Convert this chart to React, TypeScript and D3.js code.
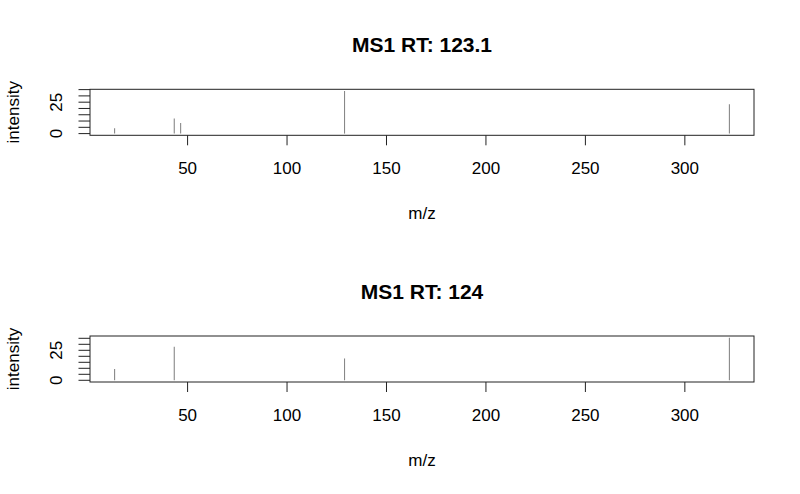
import React from "react";
import * as d3 from "d3";

// Two MS1 spectra, one per retention time
const titles = ["MS1 RT: 123.1", "MS1 RT: 124"];
const mz1 = [13.3, 43.3, 46.5, 128.9, 322.4];
const intensity1 = [4.3, 12.1, 8.4, 33.9, 23.4];
const mz2 = [13.3, 43.3, 128.9, 322.4];
const intensity2 = [9.4, 27.9, 18.2, 35.5];
const xTicks = [50, 100, 150, 200, 250, 300];
const yTicks = [0, 5, 10, 15, 20, 25, 30, 35];
const yTickLabels = [0, 25]; // R drops the overlapping ones

const W = 800;
const H = 494;
const panelH = 247;
const box = { left: 90, right: 754, top: 89.3, bottom: 135.3 };
const tickLen = 10;
const font = "'Liberation Sans', Arial, Helvetica, sans-serif";

// R style range: data extent padded by 4% on both sides
const pad = (lo: number, hi: number): [number, number] => {
  const s = hi - lo;
  return [lo - 0.04 * s, hi + 0.04 * s];
};

const allMz = [...mz1, ...mz2];
const x = d3
  .scaleLinear()
  .domain(pad(d3.min(allMz) as number, d3.max(allMz) as number))
  .range([box.left, box.right]);

interface PanelProps {
  title: string;
  mz: number[];
  intensity: number[];
  offset: number;
}

const Panel: React.FC<PanelProps> = ({ title, mz, intensity, offset }) => {
  const top = box.top + offset;
  const bottom = box.bottom + offset;
  const y = d3
    .scaleLinear()
    .domain(pad(0, d3.max(intensity) as number))
    .range([bottom, top]);
  const [ylo, yhi] = y.domain();
  const midY = (top + bottom) / 2;
  const midX = (box.left + box.right) / 2;

  return (
    <g>
      <text x={midX} y={top - 37} textAnchor="middle" fontWeight="bold" fontSize={21} fontFamily={font}>
        {title}
      </text>

      {mz.map((m, i) => (
        <line key={i} x1={x(m)} x2={x(m)} y1={y(0)} y2={y(intensity[i])} stroke="#888" strokeWidth={1.1} />
      ))}

      <rect
        x={box.left}
        y={top}
        width={box.right - box.left}
        height={bottom - top}
        fill="none"
        stroke="#222"
        strokeWidth={1}
      />

      {/* x axis */}
      {xTicks.map((t) => (
        <g key={t}>
          <line x1={x(t)} x2={x(t)} y1={bottom} y2={bottom + tickLen} stroke="#222" />
          <text x={x(t)} y={bottom + 39} textAnchor="middle" fontSize={17} fontFamily={font}>
            {t}
          </text>
        </g>
      ))}
      <text x={midX} y={bottom + 84} textAnchor="middle" fontSize={17} fontFamily={font}>
        m/z
      </text>

      {/* y axis */}
      {yTicks
        .filter((t) => t >= ylo && t <= yhi)
        .map((t) => (
          <line key={t} x1={box.left - tickLen - 1.5} x2={box.left} y1={y(t)} y2={y(t)} stroke="#222" />
        ))}
      {yTickLabels.map((t) => (
        <text
          key={t}
          transform={`translate(${box.left - 28},${y(t)}) rotate(-90)`}
          textAnchor="middle"
          fontSize={17}
          fontFamily={font}
        >
          {t}
        </text>
      ))}
      <text
        transform={`translate(${box.left - 71},${midY}) rotate(-90)`}
        textAnchor="middle"
        fontSize={17}
        fontFamily={font}
      >
        intensity
      </text>
    </g>
  );
};

export default function App() {
  return (
    <svg
      width={W}
      height={H}
      style={{ position: "absolute", top: 0, left: 0, background: "#fff", display: "block" }}
    >
      <Panel title={titles[0]} mz={mz1} intensity={intensity1} offset={0} />
      <Panel title={titles[1]} mz={mz2} intensity={intensity2} offset={panelH - 0.3} />
    </svg>
  );
}
